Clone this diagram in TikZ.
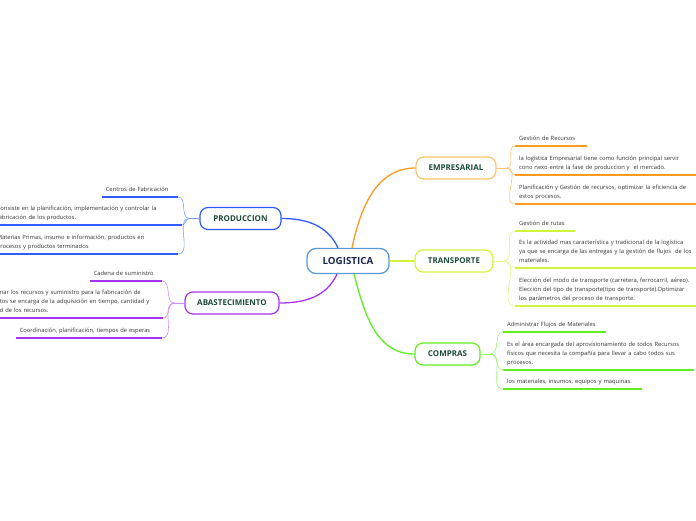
\documentclass[tikz,border=0pt]{standalone}
\usepackage{fontspec}
\setmainfont{Open Sans}
\usetikzlibrary{calc}
\hyphenpenalty=10000
\exhyphenpenalty=10000
\definecolor{orangeA}{HTML}{FF9A1F}
\definecolor{orangeB}{HTML}{FFC46B}
\definecolor{yellowA}{HTML}{D2F53C}
\definecolor{yellowB}{HTML}{E2F880}
\definecolor{greenA}{HTML}{5FEE1E}
\definecolor{greenB}{HTML}{9CF27A}
\definecolor{blueA}{HTML}{2F5BFF}
\definecolor{blueB}{HTML}{7D9EFF}
\definecolor{purpleA}{HTML}{A633F0}
\definecolor{purpleB}{HTML}{CF8CFF}
\definecolor{logiline}{HTML}{5B9BD5}
\definecolor{topictext}{HTML}{1E4A3C}
\definecolor{logitext}{HTML}{1B2A4E}
\definecolor{leaftext}{HTML}{333333}
\tikzset{
	mainbox/.style={draw=logiline, line width=1.3pt, rounded corners=9pt, fill=white,
		minimum width=82pt, minimum height=25pt, inner sep=1pt,
		font=\fontsize{9.8}{11}\selectfont\bfseries, text=logitext},
	topic/.style={draw=#1, line width=1.2pt, rounded corners=8pt, fill=white,
		minimum height=22pt, inner sep=1pt,
		font=\fontsize{8}{9}\selectfont\bfseries, text=topictext},
	trunk/.style={draw=#1, line width=1.3pt},
	twig/.style={draw=#1, line width=0.6pt},
	uline/.style={draw=#1, line width=1.6pt},
	rleaf/.style={anchor=south west, inner xsep=4pt, inner ysep=2.8pt, align=left,
		text width=#1, font=\fontsize{5.8}{8.7}\selectfont, text=leaftext,
		execute at end node=\strut},
	lleaf/.style={rleaf=#1, anchor=south east},
}
\begin{document}
\begin{tikzpicture}[x=1pt, y=-1pt]
\useasboundingbox (0,0) rectangle (696,520);
\clip (0,0) rectangle (696,520);
% main topics
\node[mainbox] (logi) at (348,261) {LOGISTICA};
\node[topic=orangeB, minimum width=80pt] (emp) at (456,168) {EMPRESARIAL};
\node[topic=yellowA, minimum width=78pt] (trans) at (454,261) {TRANSPORTE};
\node[topic=greenA, minimum width=65pt] (comp) at (447.5,354) {COMPRAS};
\node[topic=blueA, minimum width=81pt] (prod) at (240.5,218.5) {PRODUCCION};
\node[topic=purpleA, minimum width=94pt] (abas) at (232,303) {ABASTECIMIENTO};
\draw[trunk=orangeA] ([xshift=4pt]logi.north) to[out=78,in=180] (emp.west);
\draw[trunk=yellowA] (logi.east) -- (trans.west);
\draw[trunk=greenA] ([xshift=6pt]logi.south) to[out=-75,in=180] (comp.west);
\draw[trunk=blueA] ([xshift=-10pt]logi.north) to[out=115,in=0] (prod.east);
\draw[trunk=purpleA] ([xshift=-11pt]logi.south) to[out=-115,in=0] (abas.east);
% hubs
\coordinate (ehub) at ([xshift=10pt]emp.east);
\coordinate (thub) at ([xshift=10pt]trans.east);
\coordinate (chub) at ([xshift=10pt]comp.east);
\coordinate (phub) at ([xshift=-10pt]prod.west);
\coordinate (ahub) at ([xshift=-10pt]abas.west);
\draw[twig=orangeB] (emp.east) -- (ehub);
\draw[twig=yellowB] (trans.east) -- (thub);
\draw[twig=greenB] (comp.east) -- (chub);
\draw[twig=blueB] (prod.west) -- (phub);
\draw[twig=purpleB] (abas.west) -- (ahub);
% EMPRESARIAL
\node[rleaf=64pt] (e1) at (515,146) {Gestión de Recursos};
\node[rleaf=185pt] (e2) at (515,175) {la logística Empresarial tiene como función principal servir\\cono nexo entre la fase de produccion y\ \ el mercado.};
\node[rleaf=185pt] (e3) at (515,204) {Planificación y Gestión de recursos, optimizar la eficiencia de\\estos procesos.};
% TRANSPORTE
\node[rleaf=52pt] (t1) at (515,231) {Gestión de rutas};
\node[rleaf=185pt] (t2) at (515,268) {Es la actividad mas característica y tradicional de la logística\\ya que se encarga de las entregas y la gestión de flujos\ \ de los\\materiales.};
\node[rleaf=185pt] (t3) at (515,306) {Elección del modo de transporte (carretera, ferrocarril, aéreo).\\Elección del tipo de transporte(tipo de transporte).Optimizar\\los parámetros del proceso de transporte.};
% COMPRAS
\node[rleaf=95pt] (c1) at (503,332) {Administrar Flujos de Materiales};
\node[rleaf=183pt] (c2) at (503,370) {Es el área encargada del aprovisionamiento de todos Recursos\\físicos que necesita la compañía para llevar a cabo todos sus\\procesos.};
\node[rleaf=131pt] (c3) at (503,389) {los materiales, insumos, equipos y maquinas.};
% PRODUCCION
\node[lleaf=68pt] (p1) at (178,197) {Centros de Fabricación};
\node[lleaf=181pt] (p2) at (182,225) {Consiste en la planificación, implementación y controlar la\\fabricación de los productos.};
\node[lleaf=177pt] (p3) at (178,254) {Materias Primas, insumo e información, productos en\\procesos y productos terminados};
% ABASTECIMIENTO
\node[lleaf=64pt] (a1) at (162,281) {Cadena de suministro};
\node[lleaf=159pt] (a2) at (163,318) {nar los recursos y suministro para la fabricación de\\tos se encarga de la adquisición en tiempo, cantidad y\\d de los recursos.};
\node[lleaf=138pt] (a3) at (162,338) {Coordinación, planificación, tiempos de esperas};
% underlines and twigs
\foreach \leaf/\col in {e1/orangeA,e2/orangeA,e3/orangeA,t1/yellowA,t2/yellowA,t3/yellowA,c1/greenA,c2/greenA,c3/greenA}{
	\draw[uline=\col] (\leaf.south west) -- (\leaf.south east);
}
\foreach \leaf/\col in {p1/blueA,p2/blueA,p3/blueA,a1/purpleA,a2/purpleA,a3/purpleA}{
	\draw[uline=\col] (\leaf.south west) -- (\leaf.south east);
}
\foreach \leaf in {e1,e2,e3}{\draw[twig=orangeB] (ehub) to[out=0,in=180] (\leaf.south west);}
\foreach \leaf in {t1,t2,t3}{\draw[twig=yellowB] (thub) to[out=0,in=180] (\leaf.south west);}
\foreach \leaf in {c1,c2,c3}{\draw[twig=greenB] (chub) to[out=0,in=180] (\leaf.south west);}
\foreach \leaf in {p1,p2,p3}{\draw[twig=blueB] (phub) to[out=180,in=0] (\leaf.south east);}
\foreach \leaf in {a1,a2,a3}{\draw[twig=purpleB] (ahub) to[out=180,in=0] (\leaf.south east);}
\end{tikzpicture}
\end{document}
